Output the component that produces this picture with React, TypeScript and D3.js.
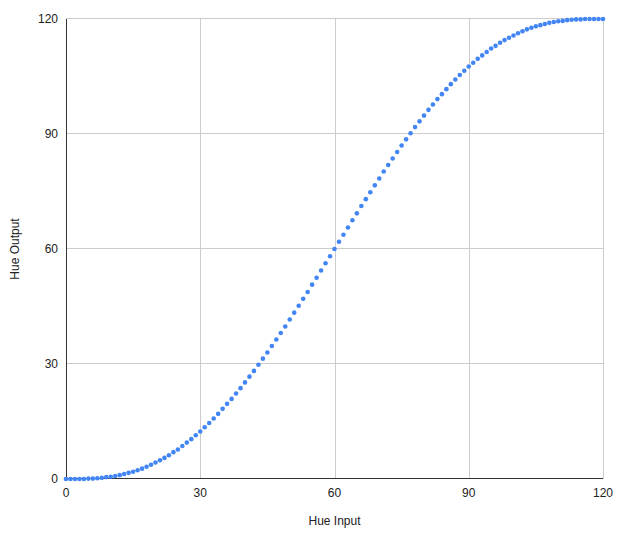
import { useEffect, useRef } from 'react';
import * as d3 from 'd3';

// Hue output, one value per integer hue input (0..120)
const hueOutput: number[] = [
  0, 0, 0, 0, 0, 0.1, 0.1, 0.2, 0.3, 0.5,
  0.6, 0.8, 1.0, 1.3, 1.6, 1.9, 2.3, 2.7, 3.2, 3.7,
  4.3, 4.9, 5.5, 6.2, 7.0, 7.7, 8.6, 9.5, 10.4, 11.4,
  12.4, 13.5, 14.6, 15.8, 17.0, 18.3, 19.6, 20.9, 22.3, 23.7,
  25.2, 26.7, 28.2, 29.8, 31.4, 33.0, 34.7, 36.4, 38.1, 39.8,
  41.6, 43.4, 45.2, 47.0, 48.8, 50.7, 52.5, 54.4, 56.3, 58.1,
  60.0, 61.9, 63.7, 65.6, 67.5, 69.3, 71.2, 73.0, 74.8, 76.6,
  78.4, 80.2, 81.9, 83.6, 85.3, 87.0, 88.6, 90.2, 91.8, 93.3,
  94.8, 96.3, 97.7, 99.1, 100.4, 101.7, 103.0, 104.2, 105.4, 106.5,
  107.6, 108.6, 109.6, 110.5, 111.4, 112.3, 113.0, 113.8, 114.5, 115.1,
  115.7, 116.3, 116.8, 117.3, 117.7, 118.1, 118.4, 118.7, 119.0, 119.2,
  119.4, 119.5, 119.7, 119.8, 119.9, 119.9, 120, 120, 120, 120,
  120,
];

const xTicks = [0, 30, 60, 90, 120];
const yTicks = [0, 30, 60, 90, 120];

export default function App() {
  const svgRef = useRef<SVGSVGElement | null>(null);

  const totalWidth = 621;
  const totalHeight = 534;
  const margin = { top: 19, right: 18, bottom: 55, left: 66 };
  const width = totalWidth - margin.left - margin.right;
  const height = totalHeight - margin.top - margin.bottom;

  useEffect(() => {
    const svg = d3.select(svgRef.current);
    svg.selectAll('*').remove();

    const g = svg
      .append('g')
      .attr('transform', `translate(${margin.left},${margin.top})`);

    const xScale = d3.scaleLinear().domain([0, 120]).range([0, width]);
    const yScale = d3.scaleLinear().domain([0, 120]).range([height, 0]);

    // Gridlines
    g.selectAll('.vgrid')
      .data(xTicks.filter((d) => d !== 0))
      .enter()
      .append('line')
      .attr('x1', (d) => Math.round(xScale(d)) + 0.5)
      .attr('x2', (d) => Math.round(xScale(d)) + 0.5)
      .attr('y1', 0)
      .attr('y2', height)
      .attr('stroke', '#cccccc');

    g.selectAll('.hgrid')
      .data(yTicks.filter((d) => d !== 0))
      .enter()
      .append('line')
      .attr('x1', 0)
      .attr('x2', width)
      .attr('y1', (d) => Math.round(yScale(d)) - 0.5)
      .attr('y2', (d) => Math.round(yScale(d)) - 0.5)
      .attr('stroke', '#cccccc');

    // Axis lines
    g.append('line')
      .attr('x1', 0.5)
      .attr('x2', 0.5)
      .attr('y1', 0)
      .attr('y2', height)
      .attr('stroke', '#333333');
    g.append('line')
      .attr('x1', 0)
      .attr('x2', width)
      .attr('y1', height - 0.5)
      .attr('y2', height - 0.5)
      .attr('stroke', '#333333');

    // Tick labels
    g.selectAll('.xlabel')
      .data(xTicks)
      .enter()
      .append('text')
      .attr('x', (d) => xScale(d))
      .attr('y', height + 18)
      .attr('text-anchor', 'middle')
      .attr('font-family', 'Arial, "Liberation Sans", sans-serif')
      .attr('font-size', 12)
      .attr('fill', '#222222')
      .text((d) => d);

    g.selectAll('.ylabel')
      .data(yTicks)
      .enter()
      .append('text')
      .attr('x', -8)
      .attr('y', (d) => yScale(d) + 4)
      .attr('text-anchor', 'end')
      .attr('font-family', 'Arial, "Liberation Sans", sans-serif')
      .attr('font-size', 12)
      .attr('fill', '#222222')
      .text((d) => d);

    // Axis titles
    g.append('text')
      .attr('x', width / 2)
      .attr('y', height + 46)
      .attr('text-anchor', 'middle')
      .attr('font-family', 'Arial, "Liberation Sans", sans-serif')
      .attr('font-size', 12)
      .attr('fill', '#222222')
      .text('Hue Input');

    g.append('text')
      .attr(
        'transform',
        `translate(${-margin.left + 19},${height / 2}) rotate(-90)`
      )
      .attr('text-anchor', 'middle')
      .attr('font-family', 'Arial, "Liberation Sans", sans-serif')
      .attr('font-size', 12)
      .attr('fill', '#222222')
      .text('Hue Output');

    // Points
    g.selectAll('.dot')
      .data(hueOutput)
      .enter()
      .append('circle')
      .attr('class', 'dot')
      .attr('cx', (_d, i) => xScale(i))
      .attr('cy', (d) => yScale(d))
      .attr('r', 2.3)
      .attr('fill', '#4285f4');
  }, []);

  return (
    <svg
      ref={svgRef}
      width={totalWidth}
      height={totalHeight}
      style={{ display: 'block', position: 'absolute', left: 0, top: 0 }}
    ></svg>
  );
}
